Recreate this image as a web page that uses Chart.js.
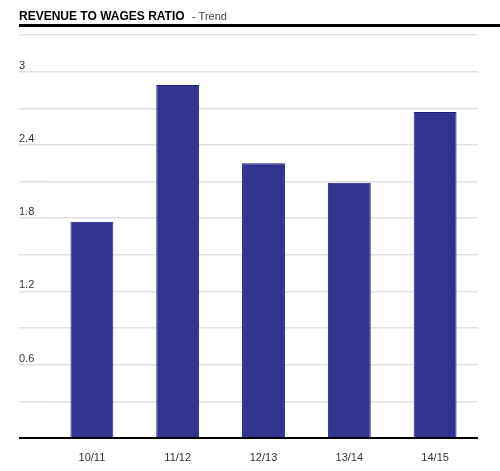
<!DOCTYPE html>
<html>
<head>
  <meta charset="utf-8">
  <title>Revenue to Wages Ratio - Trend</title>
  <script src="https://cdn.jsdelivr.net/npm/chart.js"></script>
  <style>
    html, body { margin: 0; padding: 0; background: #fff; }
    #wrap { position: relative; width: 500px; height: 471px; }
    #head {
      position: absolute; left: 19px; top: 8px; right: 0;
      border-bottom: 3px solid #000; padding-bottom: 1px;
      font-family: "Liberation Sans", Arial, sans-serif; line-height: 14px;
    }
    #head b { font-size: 12px; color: #000; }
    #head span { font-size: 11px; color: #444; }
  </style>
</head>
<body>
  <div id="wrap">
    <div id="head"><b>REVENUE TO WAGES RATIO</b> <span>&nbsp;- Trend</span></div>
    <canvas id="chart" width="500" height="471"></canvas>
  </div>
  <script>
    const seasons = ["10/11", "11/12", "12/13", "13/14", "14/15"];
    const ratios = [1.77, 2.89, 2.25, 2.09, 2.67];

    const font = { family: "'Liberation Sans', Arial, sans-serif", size: 11 };

    new Chart(document.getElementById("chart"), {
      type: "bar",
      data: {
        labels: seasons,
        datasets: [{
          label: "Revenue to wages ratio",
          data: ratios,
          backgroundColor: "#333391",
          borderColor: "#1f1f88",
          borderWidth: 1,
          barPercentage: 0.5,
          categoryPercentage: 1
        }]
      },
      options: {
        responsive: false,
        animation: false,
        layout: { padding: { left: 19, right: 22, top: 35, bottom: 0 } },
        plugins: { legend: { display: false }, tooltip: { enabled: false } },
        scales: {
          x: {
            grid: { display: false },
            border: { display: false },
            ticks: { color: "#333", font: font, padding: 5, maxRotation: 0 },
            afterFit: (s) => { s.height = 33; }
          },
          y: {
            min: 0,
            max: 3.3,
            border: { display: false },
            grid: {
              tickLength: 30,
              color: (c) => c.tick && c.tick.value === 0 ? "#000" : "#e2e2e2",
              tickColor: (c) => c.tick && c.tick.value === 0 ? "#000" : "#e2e2e2",
              lineWidth: (c) => c.tick && c.tick.value === 0 ? 2 : 1.5
            },
            ticks: {
              stepSize: 0.3,
              color: "#333",
              font: font,
              crossAlign: "far",
              padding: -28,
              labelOffset: -6,
              callback: (v, i) => (i % 2 === 0 && i > 0 && i < 11) ? String(+v.toFixed(1)) : ""
            },
            afterFit: (s) => { s.width = 30; }
          }
        }
      }
    });
  </script>
</body>
</html>
